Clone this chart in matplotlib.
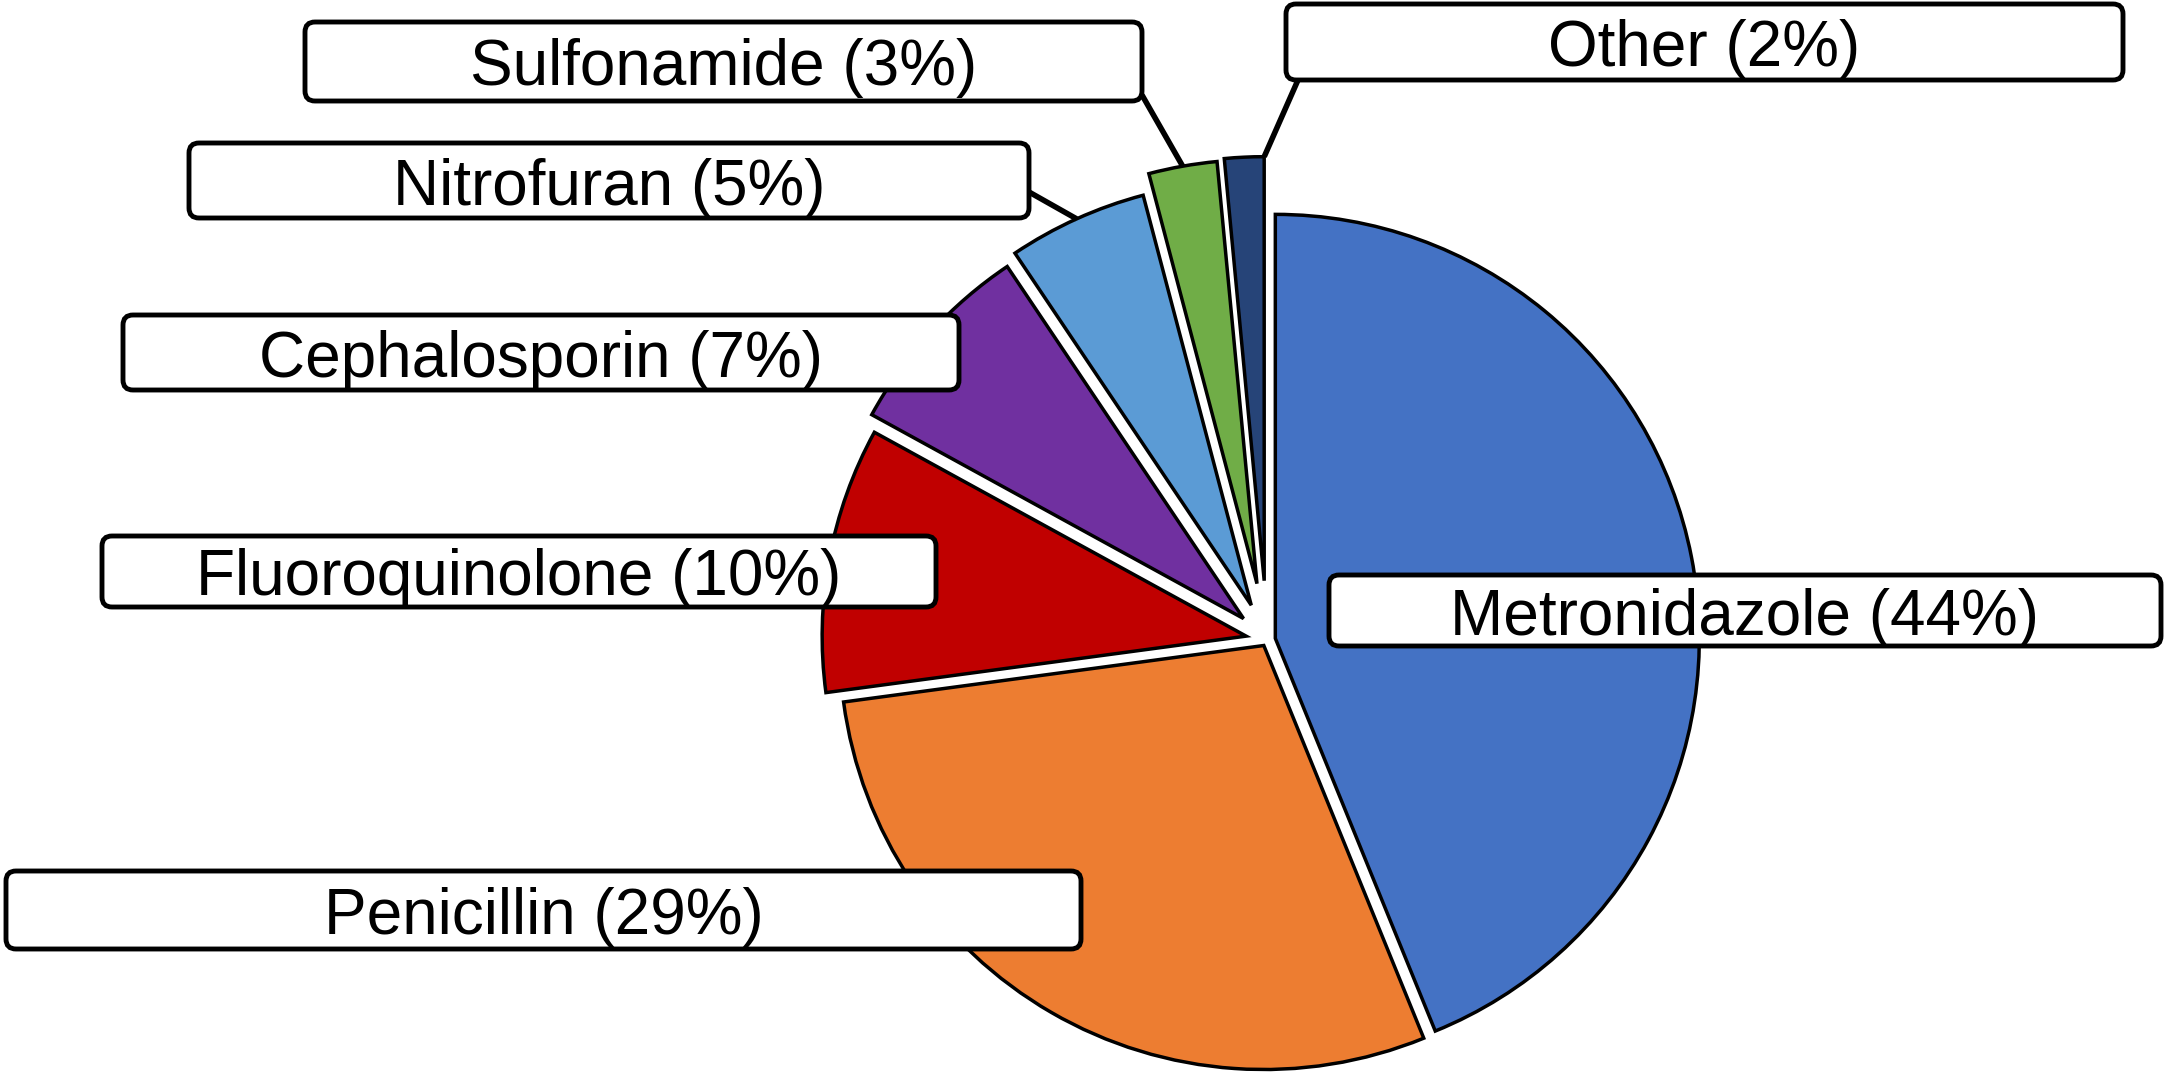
import matplotlib.pyplot as plt
from matplotlib.patches import FancyBboxPatch
import numpy as np

plt.rcParams['font.family'] = ['Liberation Sans', 'DejaVu Sans']

# data (slice sizes, printed percentages from the labels)
classes = ['Metronidazole', 'Penicillin', 'Fluoroquinolone', 'Cephalosporin',
           'Nitrofuran', 'Sulfonamide', 'Other']
shares = [43.8, 29.0, 10.1, 7.6, 5.3, 2.6, 1.5]
pct_labels = [44, 29, 10, 7, 5, 3, 2]
colors = ['#4472C4', '#ED7D31', '#C00000', '#7030A0', '#5B9BD5', '#70AD47', '#264478']
explode = [0.02, 0.015, 0.05, 0.075, 0.09, 0.135, 0.14]

W, H = 2167, 1080
cx, cy, R = 1267, 640, 424   # pie centre / radius in pixels (y from top)

# label boxes in pixels: x0, y0, x1, y1 (y from top)
boxes = {
    'Metronidazole': (1329, 575, 2161, 646),
    'Penicillin': (6, 871, 1081, 949),
    'Fluoroquinolone': (102, 536, 936, 607),
    'Cephalosporin': (123, 315, 959, 390),
    'Nitrofuran': (189, 143, 1029, 218),
    'Sulfonamide': (305, 22, 1142, 101),
    'Other': (1286, 4, 2123, 80),
}
# leader lines: box anchor (px) and position along the slice arc (0..1)
leaders = {
    'Nitrofuran': ((1029, 192), 0.5),
    'Sulfonamide': ((1142, 95), 0.5),
    'Other': ((1298, 80), 0.0),
}


def px(x, y):
    return (x - cx) / R, (cy - y) / R


fig = plt.figure(figsize=(W / 100, H / 100), dpi=100)
ax = fig.add_axes([0, 0, 1, 1])

wedges, _ = ax.pie(shares, colors=colors, explode=explode, startangle=90,
                   counterclock=False,
                   wedgeprops=dict(edgecolor='black', linewidth=2.5))

ax.set_xlim(-cx / R, (W - cx) / R)
ax.set_ylim(-(H - cy) / R, cy / R)
ax.axis('off')

for i, name in enumerate(classes):
    if name in leaders:
        (bx, by), f = leaders[name]
        w = wedges[i]
        th = np.deg2rad(w.theta1 + f * (w.theta2 - w.theta1))
        ex = w.center[0] + w.r * np.cos(th)
        ey = w.center[1] + w.r * np.sin(th)
        sx, sy = px(bx, by)
        ax.plot([sx, ex], [sy, ey], color='black', lw=4, zorder=4,
                solid_capstyle='butt')

    x0, y0, x1, y1 = boxes[name]
    lx, ly = px(x0, y1)
    box = FancyBboxPatch((lx, ly), (x1 - x0) / R, (y1 - y0) / R,
                         boxstyle='round,pad=0,rounding_size=%f' % (10 / R),
                         facecolor='white', edgecolor='black', lw=3.5, zorder=5)
    ax.add_patch(box)
    tx, ty = px((x0 + x1) / 2, (y0 + y1) / 2 + 24)
    ax.text(tx, ty, '%s (%d%%)' % (name, pct_labels[i]), ha='center',
            va='baseline', fontsize=46, zorder=6)

fig.savefig('out.png', dpi=100)
